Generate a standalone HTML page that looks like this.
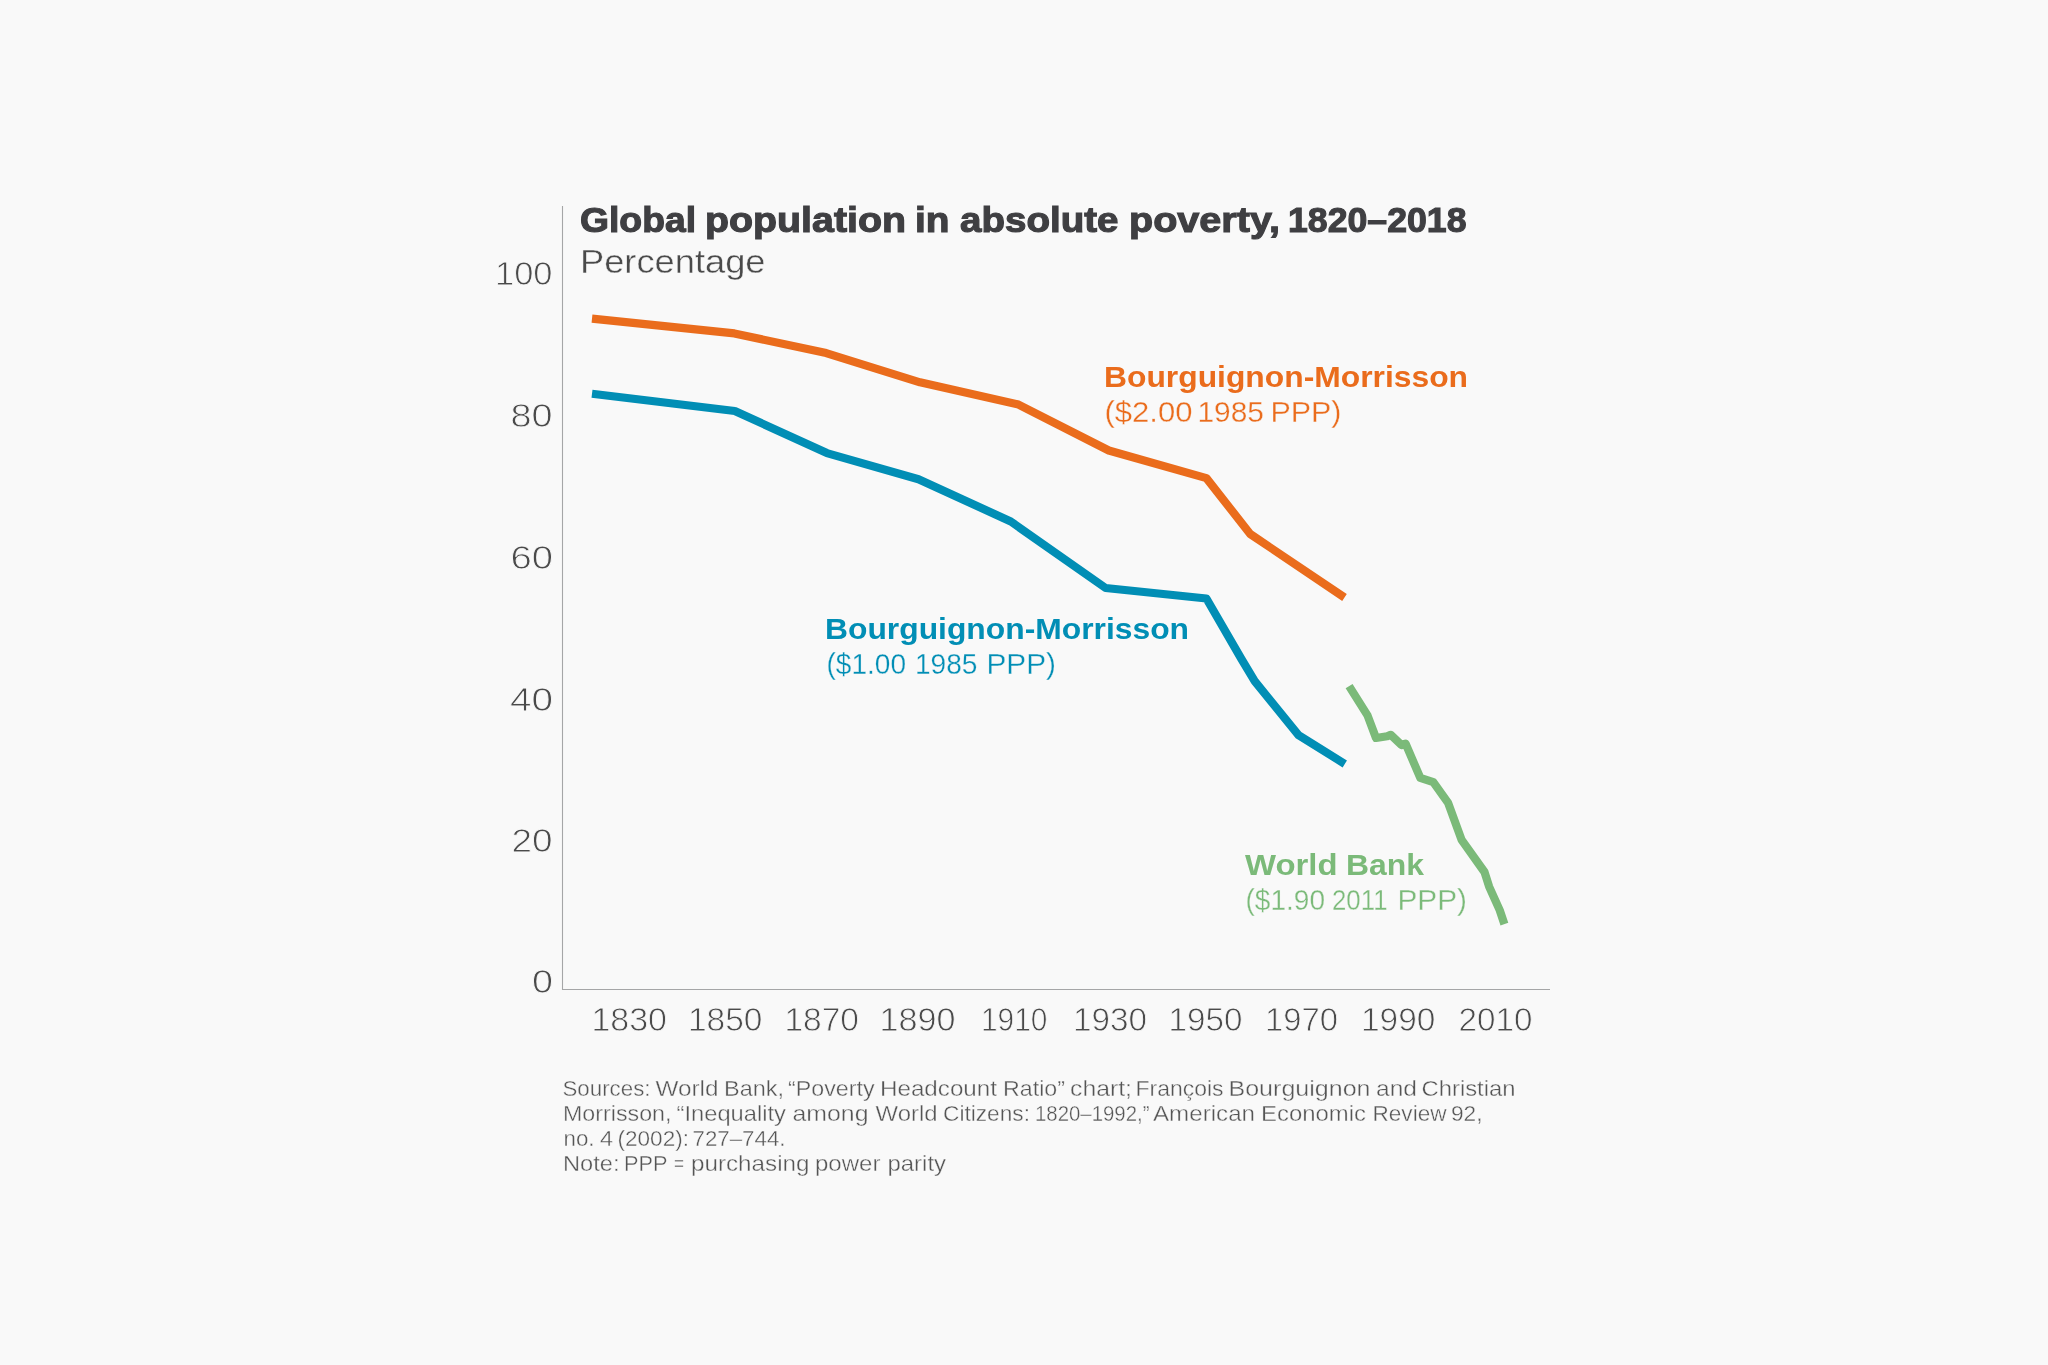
<!DOCTYPE html>
<html><head><meta charset="utf-8"><style>
html,body{margin:0;padding:0;background:#f9f9f9;}
svg{display:block;font-family:"Liberation Sans", sans-serif;will-change:transform;}
</style></head><body>
<svg width="2048" height="1365" viewBox="0 0 2048 1365">
<rect width="2048" height="1365" fill="#f9f9f9"/>
<line x1="562.5" y1="206" x2="562.5" y2="990" stroke="#a5a6a7" stroke-width="1.1"/>
<line x1="562" y1="989.5" x2="1550" y2="989.5" stroke="#a5a6a7" stroke-width="1.1"/>
<text x="580.00" y="232.4" font-size="35.0" font-weight="bold" fill="#3f3f42" stroke="#3f3f42" stroke-width="1.1" textLength="116.00" lengthAdjust="spacingAndGlyphs">Global</text>
<text x="705.00" y="232.4" font-size="35.0" font-weight="bold" fill="#3f3f42" stroke="#3f3f42" stroke-width="1.1" textLength="201.00" lengthAdjust="spacingAndGlyphs">population</text>
<text x="915.00" y="232.4" font-size="35.0" font-weight="bold" fill="#3f3f42" stroke="#3f3f42" stroke-width="1.1" textLength="34.50" lengthAdjust="spacingAndGlyphs">in</text>
<text x="960.00" y="232.4" font-size="35.0" font-weight="bold" fill="#3f3f42" stroke="#3f3f42" stroke-width="1.1" textLength="158.50" lengthAdjust="spacingAndGlyphs">absolute</text>
<text x="1129.00" y="232.4" font-size="35.0" font-weight="bold" fill="#3f3f42" stroke="#3f3f42" stroke-width="1.1" textLength="151.00" lengthAdjust="spacingAndGlyphs">poverty,</text>
<text x="1288.00" y="232.4" font-size="35.0" font-weight="bold" fill="#3f3f42" stroke="#3f3f42" stroke-width="1.1" textLength="178.50" lengthAdjust="spacingAndGlyphs">1820–2018</text>
<text x="580.00" y="272.6" font-size="32.7" font-weight="normal" fill="#4a4a4a" stroke="#f9f9f9" stroke-width="0.4" textLength="185.50" lengthAdjust="spacingAndGlyphs">Percentage</text>
<text x="495.00" y="285.4" font-size="32.7" font-weight="normal" fill="#4a4a4a" stroke="#f9f9f9" stroke-width="0.8" textLength="57.50" lengthAdjust="spacingAndGlyphs">100</text>
<text x="510.50" y="426.6" font-size="32.7" font-weight="normal" fill="#4a4a4a" stroke="#f9f9f9" stroke-width="0.8" textLength="42.00" lengthAdjust="spacingAndGlyphs">80</text>
<text x="510.50" y="569" font-size="32.7" font-weight="normal" fill="#4a4a4a" stroke="#f9f9f9" stroke-width="0.8" textLength="42.50" lengthAdjust="spacingAndGlyphs">60</text>
<text x="510.00" y="710.8" font-size="32.7" font-weight="normal" fill="#4a4a4a" stroke="#f9f9f9" stroke-width="0.8" textLength="43.00" lengthAdjust="spacingAndGlyphs">40</text>
<text x="511.50" y="851.9" font-size="32.7" font-weight="normal" fill="#4a4a4a" stroke="#f9f9f9" stroke-width="0.8" textLength="41.00" lengthAdjust="spacingAndGlyphs">20</text>
<text x="532.00" y="993.2" font-size="32.7" font-weight="normal" fill="#4a4a4a" stroke="#f9f9f9" stroke-width="0.8" textLength="21.00" lengthAdjust="spacingAndGlyphs">0</text>
<text x="591.50" y="1030.8" font-size="33.3" font-weight="normal" fill="#4a4a4a" stroke="#f9f9f9" stroke-width="0.8" textLength="75.50" lengthAdjust="spacingAndGlyphs">1830</text>
<text x="688.00" y="1030.8" font-size="33.3" font-weight="normal" fill="#4a4a4a" stroke="#f9f9f9" stroke-width="0.8" textLength="74.50" lengthAdjust="spacingAndGlyphs">1850</text>
<text x="784.50" y="1030.8" font-size="33.3" font-weight="normal" fill="#4a4a4a" stroke="#f9f9f9" stroke-width="0.8" textLength="74.50" lengthAdjust="spacingAndGlyphs">1870</text>
<text x="879.50" y="1030.8" font-size="33.3" font-weight="normal" fill="#4a4a4a" stroke="#f9f9f9" stroke-width="0.8" textLength="76.00" lengthAdjust="spacingAndGlyphs">1890</text>
<text x="981.00" y="1030.8" font-size="33.3" font-weight="normal" fill="#4a4a4a" stroke="#f9f9f9" stroke-width="0.8" textLength="66.50" lengthAdjust="spacingAndGlyphs">1910</text>
<text x="1073.00" y="1030.8" font-size="33.3" font-weight="normal" fill="#4a4a4a" stroke="#f9f9f9" stroke-width="0.8" textLength="74.00" lengthAdjust="spacingAndGlyphs">1930</text>
<text x="1168.50" y="1030.8" font-size="33.3" font-weight="normal" fill="#4a4a4a" stroke="#f9f9f9" stroke-width="0.8" textLength="74.00" lengthAdjust="spacingAndGlyphs">1950</text>
<text x="1265.00" y="1030.8" font-size="33.3" font-weight="normal" fill="#4a4a4a" stroke="#f9f9f9" stroke-width="0.8" textLength="73.00" lengthAdjust="spacingAndGlyphs">1970</text>
<text x="1361.00" y="1030.8" font-size="33.3" font-weight="normal" fill="#4a4a4a" stroke="#f9f9f9" stroke-width="0.8" textLength="74.50" lengthAdjust="spacingAndGlyphs">1990</text>
<text x="1458.50" y="1030.8" font-size="33.3" font-weight="normal" fill="#4a4a4a" stroke="#f9f9f9" stroke-width="0.8" textLength="74.00" lengthAdjust="spacingAndGlyphs">2010</text>
<text x="1104.00" y="387.1" font-size="29" font-weight="bold" fill="#EA6C1C" textLength="364.00" lengthAdjust="spacingAndGlyphs">Bourguignon-Morrisson</text>
<text x="1104.50" y="421.9" font-size="28.7" font-weight="normal" fill="#EA6C1C" stroke="#f9f9f9" stroke-width="0.3" textLength="88.00" lengthAdjust="spacingAndGlyphs">($2.00</text>
<text x="1197.50" y="421.9" font-size="28.7" font-weight="normal" fill="#EA6C1C" stroke="#f9f9f9" stroke-width="0.3" textLength="66.50" lengthAdjust="spacingAndGlyphs">1985</text>
<text x="1270.50" y="421.9" font-size="28.7" font-weight="normal" fill="#EA6C1C" stroke="#f9f9f9" stroke-width="0.3" textLength="71.00" lengthAdjust="spacingAndGlyphs">PPP)</text>
<text x="825.00" y="639.1" font-size="29" font-weight="bold" fill="#018EB5" textLength="364.00" lengthAdjust="spacingAndGlyphs">Bourguignon-Morrisson</text>
<text x="826.50" y="673.8" font-size="28.7" font-weight="normal" fill="#018EB5" stroke="#f9f9f9" stroke-width="0.3" textLength="79.50" lengthAdjust="spacingAndGlyphs">($1.00</text>
<text x="915.00" y="673.8" font-size="28.7" font-weight="normal" fill="#018EB5" stroke="#f9f9f9" stroke-width="0.3" textLength="62.50" lengthAdjust="spacingAndGlyphs">1985</text>
<text x="986.50" y="673.8" font-size="28.7" font-weight="normal" fill="#018EB5" stroke="#f9f9f9" stroke-width="0.3" textLength="69.50" lengthAdjust="spacingAndGlyphs">PPP)</text>
<text x="1245.00" y="874.9" font-size="29" font-weight="bold" fill="#7BBA79" textLength="92.50" lengthAdjust="spacingAndGlyphs">World</text>
<text x="1346.00" y="874.9" font-size="29" font-weight="bold" fill="#7BBA79" textLength="78.00" lengthAdjust="spacingAndGlyphs">Bank</text>
<text x="1245.50" y="909.8" font-size="28.7" font-weight="normal" fill="#7BBA79" stroke="#f9f9f9" stroke-width="0.3" textLength="79.50" lengthAdjust="spacingAndGlyphs">($1.90</text>
<text x="1332.00" y="909.8" font-size="28.7" font-weight="normal" fill="#7BBA79" stroke="#f9f9f9" stroke-width="0.3" textLength="55.50" lengthAdjust="spacingAndGlyphs">2011</text>
<text x="1397.50" y="909.8" font-size="28.7" font-weight="normal" fill="#7BBA79" stroke="#f9f9f9" stroke-width="0.3" textLength="69.50" lengthAdjust="spacingAndGlyphs">PPP)</text>
<text x="562.50" y="1095.6" font-size="21.2" font-weight="normal" fill="#555555" stroke="#f9f9f9" stroke-width="0.35" textLength="88.00" lengthAdjust="spacingAndGlyphs">Sources:</text>
<text x="655.50" y="1095.6" font-size="21.2" font-weight="normal" fill="#555555" stroke="#f9f9f9" stroke-width="0.35" textLength="63.00" lengthAdjust="spacingAndGlyphs">World</text>
<text x="724.00" y="1095.6" font-size="21.2" font-weight="normal" fill="#555555" stroke="#f9f9f9" stroke-width="0.35" textLength="60.00" lengthAdjust="spacingAndGlyphs">Bank,</text>
<text x="788.00" y="1095.6" font-size="21.2" font-weight="normal" fill="#555555" stroke="#f9f9f9" stroke-width="0.35" textLength="86.50" lengthAdjust="spacingAndGlyphs">“Poverty</text>
<text x="880.00" y="1095.6" font-size="21.2" font-weight="normal" fill="#555555" stroke="#f9f9f9" stroke-width="0.35" textLength="117.00" lengthAdjust="spacingAndGlyphs">Headcount</text>
<text x="1003.00" y="1095.6" font-size="21.2" font-weight="normal" fill="#555555" stroke="#f9f9f9" stroke-width="0.35" textLength="62.00" lengthAdjust="spacingAndGlyphs">Ratio”</text>
<text x="1070.00" y="1095.6" font-size="21.2" font-weight="normal" fill="#555555" stroke="#f9f9f9" stroke-width="0.35" textLength="62.00" lengthAdjust="spacingAndGlyphs">chart;</text>
<text x="1135.50" y="1095.6" font-size="21.2" font-weight="normal" fill="#555555" stroke="#f9f9f9" stroke-width="0.35" textLength="88.00" lengthAdjust="spacingAndGlyphs">François</text>
<text x="1228.50" y="1095.6" font-size="21.2" font-weight="normal" fill="#555555" stroke="#f9f9f9" stroke-width="0.35" textLength="142.00" lengthAdjust="spacingAndGlyphs">Bourguignon</text>
<text x="1376.00" y="1095.6" font-size="21.2" font-weight="normal" fill="#555555" stroke="#f9f9f9" stroke-width="0.35" textLength="41.00" lengthAdjust="spacingAndGlyphs">and</text>
<text x="1421.50" y="1095.6" font-size="21.2" font-weight="normal" fill="#555555" stroke="#f9f9f9" stroke-width="0.35" textLength="94.00" lengthAdjust="spacingAndGlyphs">Christian</text>
<text x="563.00" y="1120.8" font-size="21.2" font-weight="normal" fill="#555555" stroke="#f9f9f9" stroke-width="0.35" textLength="108.50" lengthAdjust="spacingAndGlyphs">Morrisson,</text>
<text x="676.50" y="1120.8" font-size="21.2" font-weight="normal" fill="#555555" stroke="#f9f9f9" stroke-width="0.35" textLength="109.50" lengthAdjust="spacingAndGlyphs">“Inequality</text>
<text x="792.50" y="1120.8" font-size="21.2" font-weight="normal" fill="#555555" stroke="#f9f9f9" stroke-width="0.35" textLength="76.00" lengthAdjust="spacingAndGlyphs">among</text>
<text x="875.50" y="1120.8" font-size="21.2" font-weight="normal" fill="#555555" stroke="#f9f9f9" stroke-width="0.35" textLength="62.00" lengthAdjust="spacingAndGlyphs">World</text>
<text x="943.00" y="1120.8" font-size="21.2" font-weight="normal" fill="#555555" stroke="#f9f9f9" stroke-width="0.35" textLength="87.00" lengthAdjust="spacingAndGlyphs">Citizens:</text>
<text x="1035.00" y="1120.8" font-size="21.2" font-weight="normal" fill="#555555" stroke="#f9f9f9" stroke-width="0.35" textLength="114.50" lengthAdjust="spacingAndGlyphs">1820–1992,”</text>
<text x="1153.00" y="1120.8" font-size="21.2" font-weight="normal" fill="#555555" stroke="#f9f9f9" stroke-width="0.35" textLength="102.00" lengthAdjust="spacingAndGlyphs">American</text>
<text x="1261.00" y="1120.8" font-size="21.2" font-weight="normal" fill="#555555" stroke="#f9f9f9" stroke-width="0.35" textLength="105.00" lengthAdjust="spacingAndGlyphs">Economic</text>
<text x="1372.50" y="1120.8" font-size="21.2" font-weight="normal" fill="#555555" stroke="#f9f9f9" stroke-width="0.35" textLength="74.00" lengthAdjust="spacingAndGlyphs">Review</text>
<text x="1451.00" y="1120.8" font-size="21.2" font-weight="normal" fill="#555555" stroke="#f9f9f9" stroke-width="0.35" textLength="31.50" lengthAdjust="spacingAndGlyphs">92,</text>
<text x="563.50" y="1146.2" font-size="21.2" font-weight="normal" fill="#555555" stroke="#f9f9f9" stroke-width="0.35" textLength="31.00" lengthAdjust="spacingAndGlyphs">no.</text>
<text x="600.00" y="1146.2" font-size="21.2" font-weight="normal" fill="#555555" stroke="#f9f9f9" stroke-width="0.35" textLength="13.00" lengthAdjust="spacingAndGlyphs">4</text>
<text x="617.50" y="1146.2" font-size="21.2" font-weight="normal" fill="#555555" stroke="#f9f9f9" stroke-width="0.35" textLength="71.50" lengthAdjust="spacingAndGlyphs">(2002):</text>
<text x="692.50" y="1146.2" font-size="21.2" font-weight="normal" fill="#555555" stroke="#f9f9f9" stroke-width="0.35" textLength="93.00" lengthAdjust="spacingAndGlyphs">727–744.</text>
<text x="563.00" y="1171.3" font-size="21.2" font-weight="normal" fill="#555555" stroke="#f9f9f9" stroke-width="0.35" textLength="56.50" lengthAdjust="spacingAndGlyphs">Note:</text>
<text x="624.00" y="1171.3" font-size="21.2" font-weight="normal" fill="#555555" stroke="#f9f9f9" stroke-width="0.35" textLength="43.50" lengthAdjust="spacingAndGlyphs">PPP</text>
<text x="674.00" y="1171.3" font-size="21.2" font-weight="normal" fill="#555555" stroke="#f9f9f9" stroke-width="0.35" textLength="10.00" lengthAdjust="spacingAndGlyphs">=</text>
<text x="691.00" y="1171.3" font-size="21.2" font-weight="normal" fill="#555555" stroke="#f9f9f9" stroke-width="0.35" textLength="118.50" lengthAdjust="spacingAndGlyphs">purchasing</text>
<text x="815.00" y="1171.3" font-size="21.2" font-weight="normal" fill="#555555" stroke="#f9f9f9" stroke-width="0.35" textLength="65.50" lengthAdjust="spacingAndGlyphs">power</text>
<text x="887.50" y="1171.3" font-size="21.2" font-weight="normal" fill="#555555" stroke="#f9f9f9" stroke-width="0.35" textLength="58.50" lengthAdjust="spacingAndGlyphs">parity</text>
<polyline points="592.0,318.6 734.4,333.4 826.2,353.1 920.0,382.3 1018.5,404.6 1108.8,450.5 1206.4,478.1 1250.2,534.0 1344.5,597.5" fill="none" stroke="#EA6C1C" stroke-width="8.2" stroke-linejoin="round" stroke-linecap="butt"/>
<polyline points="592.0,393.8 734.8,411.0 826.9,453.1 918.5,479.2 1010.8,521.5 1105.6,588.0 1206.4,598.5 1241.5,659.1 1254.7,681.1 1298.7,735.3 1344.8,763.9" fill="none" stroke="#018EB5" stroke-width="8.2" stroke-linejoin="round" stroke-linecap="butt"/>
<polyline points="1349.1,686.1 1367.5,715.4 1376.0,738.0 1387.2,736.3 1390.7,734.8 1401.5,745.0 1405.6,743.6 1420.3,777.9 1433.3,782.2 1448.1,802.9 1461.6,839.8 1484.5,872.0 1489.1,886.6 1499.7,910.1 1504.4,924.1" fill="none" stroke="#7BBA79" stroke-width="8.2" stroke-linejoin="round" stroke-linecap="butt"/>
</svg>
</body></html>
